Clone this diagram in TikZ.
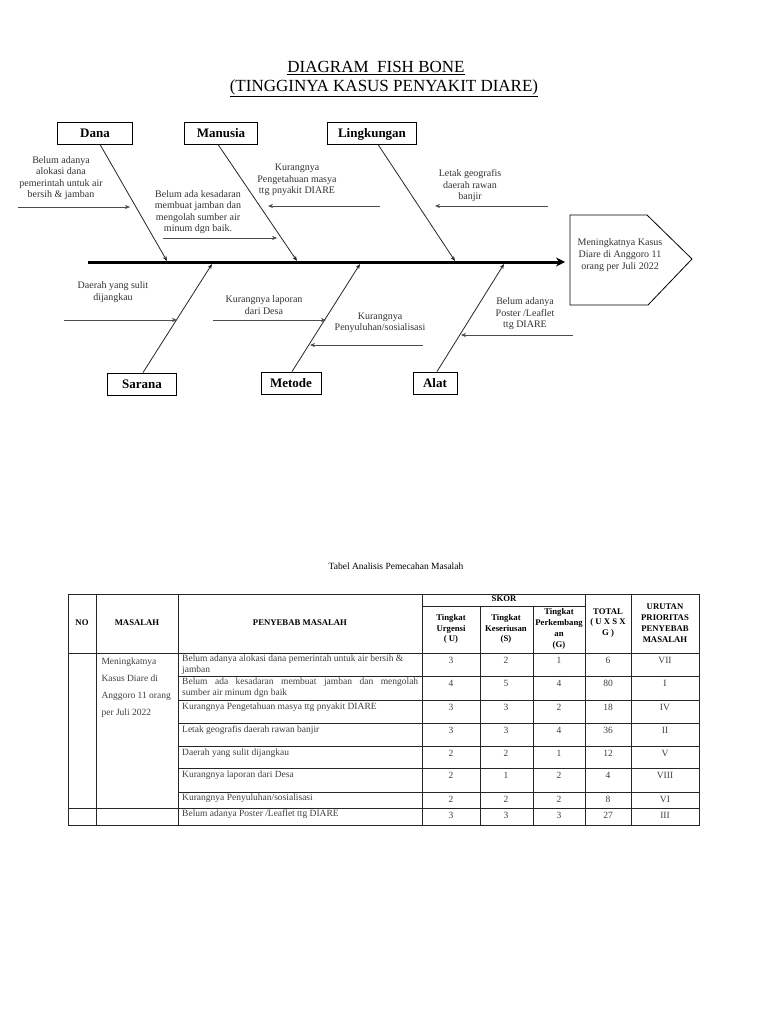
\documentclass[tikz,border=0pt]{standalone}
\usepackage{fontspec}
\setmainfont{Liberation Serif}
\usetikzlibrary{arrows.meta,shapes,positioning,calc}

\begin{document}
\begin{tikzpicture}[x=1pt, y=-1pt, >=Stealth,
  catbox/.style={draw, line width=0.9pt, minimum height=22pt, inner sep=0pt, text height=9.5pt, text depth=0.8pt, font=\fontsize{13}{15}\selectfont\bfseries},
  cause/.style={align=center, text=black!80, font=\fontsize{10}{11.5}\selectfont},
  bone/.style={-{Stealth[length=5pt,width=4pt]}, line width=0.8pt, black!85},
  causearrow/.style={-{Stealth[length=5pt,width=4pt]}, line width=0.6pt, black!70},
  hdr/.style={align=center, font=\fontsize{8.7}{10.8}\selectfont\bfseries},
  cell/.style={text=black!75, font=\fontsize{9.5}{11}\selectfont},
  grid/.style={line width=0.8pt, black!85}]
\useasboundingbox (0,0) rectangle (768,1024);
\fill[white] (0,0) rectangle (768,1024);

\node[font=\fontsize{17}{20}\selectfont] (title1) at (376,68) {\underline{DIAGRAM\ \ FISH BONE}};
\node[font=\fontsize{17}{20}\selectfont] (title2) at (384,88) {\underline{(TINGGINYA KASUS PENYAKIT DIARE)}};

\coordinate (tail) at (88,262);
\coordinate (spineend) at (565,262);
\draw[line width=3pt, -{Stealth[length=9pt,width=9pt]}] (tail) -- (spineend);

\draw[line width=0.8pt] (570,215) -- (647,215) -- (692,259) -- (648,305) -- (570,305) -- cycle;
\node[align=center, text=black!80, font=\fontsize{10}{12}\selectfont] (effect) at (620,255)
  {Meningkatnya Kasus\\Diare di Anggoro 11\\orang per Juli 2022};

\foreach \nm/\lbl/\x/\y/\w/\dx/\ex/\ey/\side in {
    dana/Dana/95/133/75/5/167/261/south,
    manusia/Manusia/221/133/73/-3/297/261/south,
    lingkungan/Lingkungan/372/133/89/6/455/261/south,
    sarana/Sarana/142/384/69/1/212/264/north,
    metode/Metode/291/383/60/1/360/264/north,
    alat/Alat/435/383/44/2/504/264/north}{
  \node[catbox, minimum width=\w pt] (\nm) at (\x,\y) {\lbl};
  \coordinate (\nm end) at (\ex,\ey);
  \draw[bone] ($(\nm.\side)+(\dx,0)$) -- (\nm end);
}

\foreach \n/\tx/\ty/\txt/\ax/\bx/\ay in {
    1/61/178/{Belum adanya\\alokasi dana\\pemerintah untuk air\\bersih \& jamban}/18/130/207,
    2/198/212/{Belum ada kesadaran\\membuat jamban dan\\mengolah sumber air\\minum dgn baik.}/163/277/238,
    3/297/180/{Kurangnya\\Pengetahuan masya\\ttg pnyakit DIARE}/380/268/206,
    4/470/186/{Letak geografis\\daerah rawan\\banjir}/548/435/206,
    5/113/292/{Daerah yang sulit\\dijangkau}/64/177/320,
    6/264/305/{Kurangnya laporan\\dari Desa}/213/326/320,
    7/380/323/{Kurangnya\\Penyuluhan/sosialisasi}/423/310/345,
    8/525/314/{Belum adanya\\Poster /Leaflet\\ttg DIARE}/573/461/335}{
  \node[cause] (cause\n) at (\tx,\ty) {\txt};
  \coordinate (from\n) at (\ax,\ay);
  \coordinate (to\n) at (\bx,\ay);
  \draw[causearrow] (from\n) -- (to\n);
}

\node[font=\fontsize{9.5}{11}\selectfont] (caption) at (396,566) {Tabel Analisis Pemecahan Masalah};

\draw[grid] (68,594) rectangle (699,825);
\foreach \x in {96,178,422,585,631}
  \draw[grid] (\x,594) -- (\x,825);
\foreach \x in {480,533}
  \draw[grid] (\x,606) -- (\x,825);
\draw[grid] (422,606) -- (585,606);
\draw[grid] (68,653) -- (699,653);
\draw[grid] (68,808) -- (699,808);
\foreach \y in {676,700,723,746,768,792}
  \draw[grid] (178,\y) -- (699,\y);

\node[hdr] (hno) at (82,623) {NO};
\node[hdr] (hmasalah) at (137,623) {MASALAH};
\node[hdr] (hpenyebab) at (300,623) {PENYEBAB MASALAH};
\node[hdr] (hskor) at (504,599) {SKOR};
\node[hdr] (hu) at (451,629) {Tingkat\\Urgensi\\( U)};
\node[hdr] (hs) at (506,629) {Tingkat\\Keseriusan\\(S)};
\node[hdr] (hg) at (559,629) {Tingkat\\Perkembang\\an\\(G)};
\node[hdr] (htotal) at (608,623) {TOTAL\\( U X S X\\G )};
\node[hdr] (hurutan) at (665,623) {URUTAN\\PRIORITAS\\PENYEBAB\\MASALAH};

\node[cell, anchor=north west, align=left, font=\fontsize{9.5}{17}\selectfont] (masalah) at (98,654)
  {Meningkatnya\\Kasus Diare di\\Anggoro 11 orang\\per Juli 2022};

\node[cell, anchor=north west, align=left, inner sep=0pt] (p1) at (182,655)
  {Belum adanya alokasi dana pemerintah untuk air bersih \&\\jamban};
\node[cell, anchor=north west, align=left, inner sep=0pt] (p2) at (182,678)
  {\makebox[236pt][s]{Belum ada kesadaran membuat jamban dan mengolah}\\sumber air minum dgn baik};
\foreach \y/\txt in {
    703/{Kurangnya Pengetahuan masya ttg pnyakit DIARE},
    726/{Letak geografis daerah rawan banjir},
    749/{Daerah yang sulit dijangkau},
    771/{Kurangnya laporan dari Desa},
    794/{Kurangnya Penyuluhan/sosialisasi},
    810/{Belum adanya Poster /Leaflet ttg DIARE}}{
  \node[cell, anchor=north west, inner sep=0pt] (p\y) at (182,\y) {\txt};
}

\foreach \ry/\u/\s/\g/\t/\r in {
    653/3/2/1/6/VII,
    676/4/5/4/80/I,
    700/3/3/2/18/IV,
    723/3/3/4/36/II,
    746/2/2/1/12/V,
    768/2/1/2/4/VIII,
    792/2/2/2/8/VI,
    808/3/3/3/27/III}{
  \node[cell] (u\ry) at (451,\ry+7) {\u};
  \node[cell] (s\ry) at (506,\ry+7) {\s};
  \node[cell] (g\ry) at (559,\ry+7) {\g};
  \node[cell] (t\ry) at (608,\ry+7) {\t};
  \node[cell] (r\ry) at (665,\ry+7) {\r};
}
\end{tikzpicture}
\end{document}
